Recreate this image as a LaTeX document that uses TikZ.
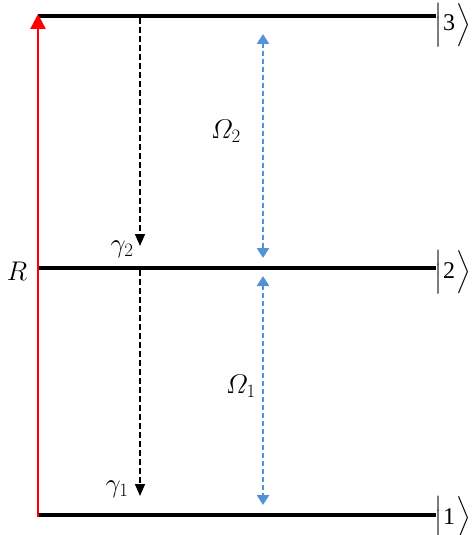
\RequirePackage{fix-cm}
\documentclass[tikz,border=0pt]{standalone}
\usepackage{amsmath,amssymb}
\usepackage{fontspec}
\setmainfont{Liberation Serif}
\usetikzlibrary{arrows.meta}
\definecolor{rabiblue}{RGB}{84,146,214}
\newcommand{\ketlabel}[1]{$\Bigl|$\kern1pt#1\kern1pt$\Bigr\rangle$}

\begin{document}
\begin{tikzpicture}[x=1pt,y=-1pt,
  every node/.style={font=\fontsize{21}{25}\selectfont},
  ket/.style={anchor=west,inner sep=0pt,font=\fontsize{24}{28}\selectfont},
  greek/.style={font=\fontsize{27}{31}\selectfont,inner sep=0pt},
  level/.style={line width=4pt},
  decay/.style={line width=1.4pt,dash pattern=on 6pt off 3pt,
    -{Triangle[length=12pt,width=10pt]}},
  rabi/.style={rabiblue,line width=2.8pt,dash pattern=on 5pt off 3pt,
    {Triangle[length=10pt,width=12pt]}-{Triangle[length=10pt,width=12pt]}}]
  \useasboundingbox (0,0) rectangle (474,535);
  % levels
  \coordinate (l3a) at (38,16);  \coordinate (l3b) at (436,16);
  \coordinate (l2a) at (38,268); \coordinate (l2b) at (436,268);
  \coordinate (l1a) at (38,515); \coordinate (l1b) at (436,515);
  \draw[level] (l3a) -- (l3b);
  \draw[level] (l2a) -- (l2b);
  \draw[level] (l1a) -- (l1b);
  \node[ket] (k3) at (434,25) {\ketlabel{3}};
  \node[ket] (k2) at (434,272) {\ketlabel{2}};
  \node[ket] (k1) at (434,518) {\ketlabel{1}};
  % pump
  \draw[red,line width=2.5pt,-{Triangle[length=15pt,width=15pt]}] (38,517) -- (38,14);
  \node[greek] (pump) at (17,271) {$R$};
  % decays
  \coordinate (d2a) at (140,18);  \coordinate (d2b) at (140,246);
  \coordinate (d1a) at (140,270); \coordinate (d1b) at (140,496);
  \draw[decay] (d2a) -- (d2b);
  \draw[decay] (d1a) -- (d1b);
  \node[greek] (gam2) at (122,249) {$\gamma_2$};
  \node[greek] (gam1) at (117,489) {$\gamma_1$};
  % couplings
  \coordinate (c2a) at (263,34);  \coordinate (c2b) at (263,258);
  \coordinate (c1a) at (263,276); \coordinate (c1b) at (263,505);
  \draw[rabi] (c2a) -- (c2b);
  \draw[rabi] (c1a) -- (c1b);
  \node[greek] (om2) at (226,131) {$\varOmega_2$};
  \node[greek] (om1) at (241,386) {$\varOmega_1$};
\end{tikzpicture}
\end{document}
